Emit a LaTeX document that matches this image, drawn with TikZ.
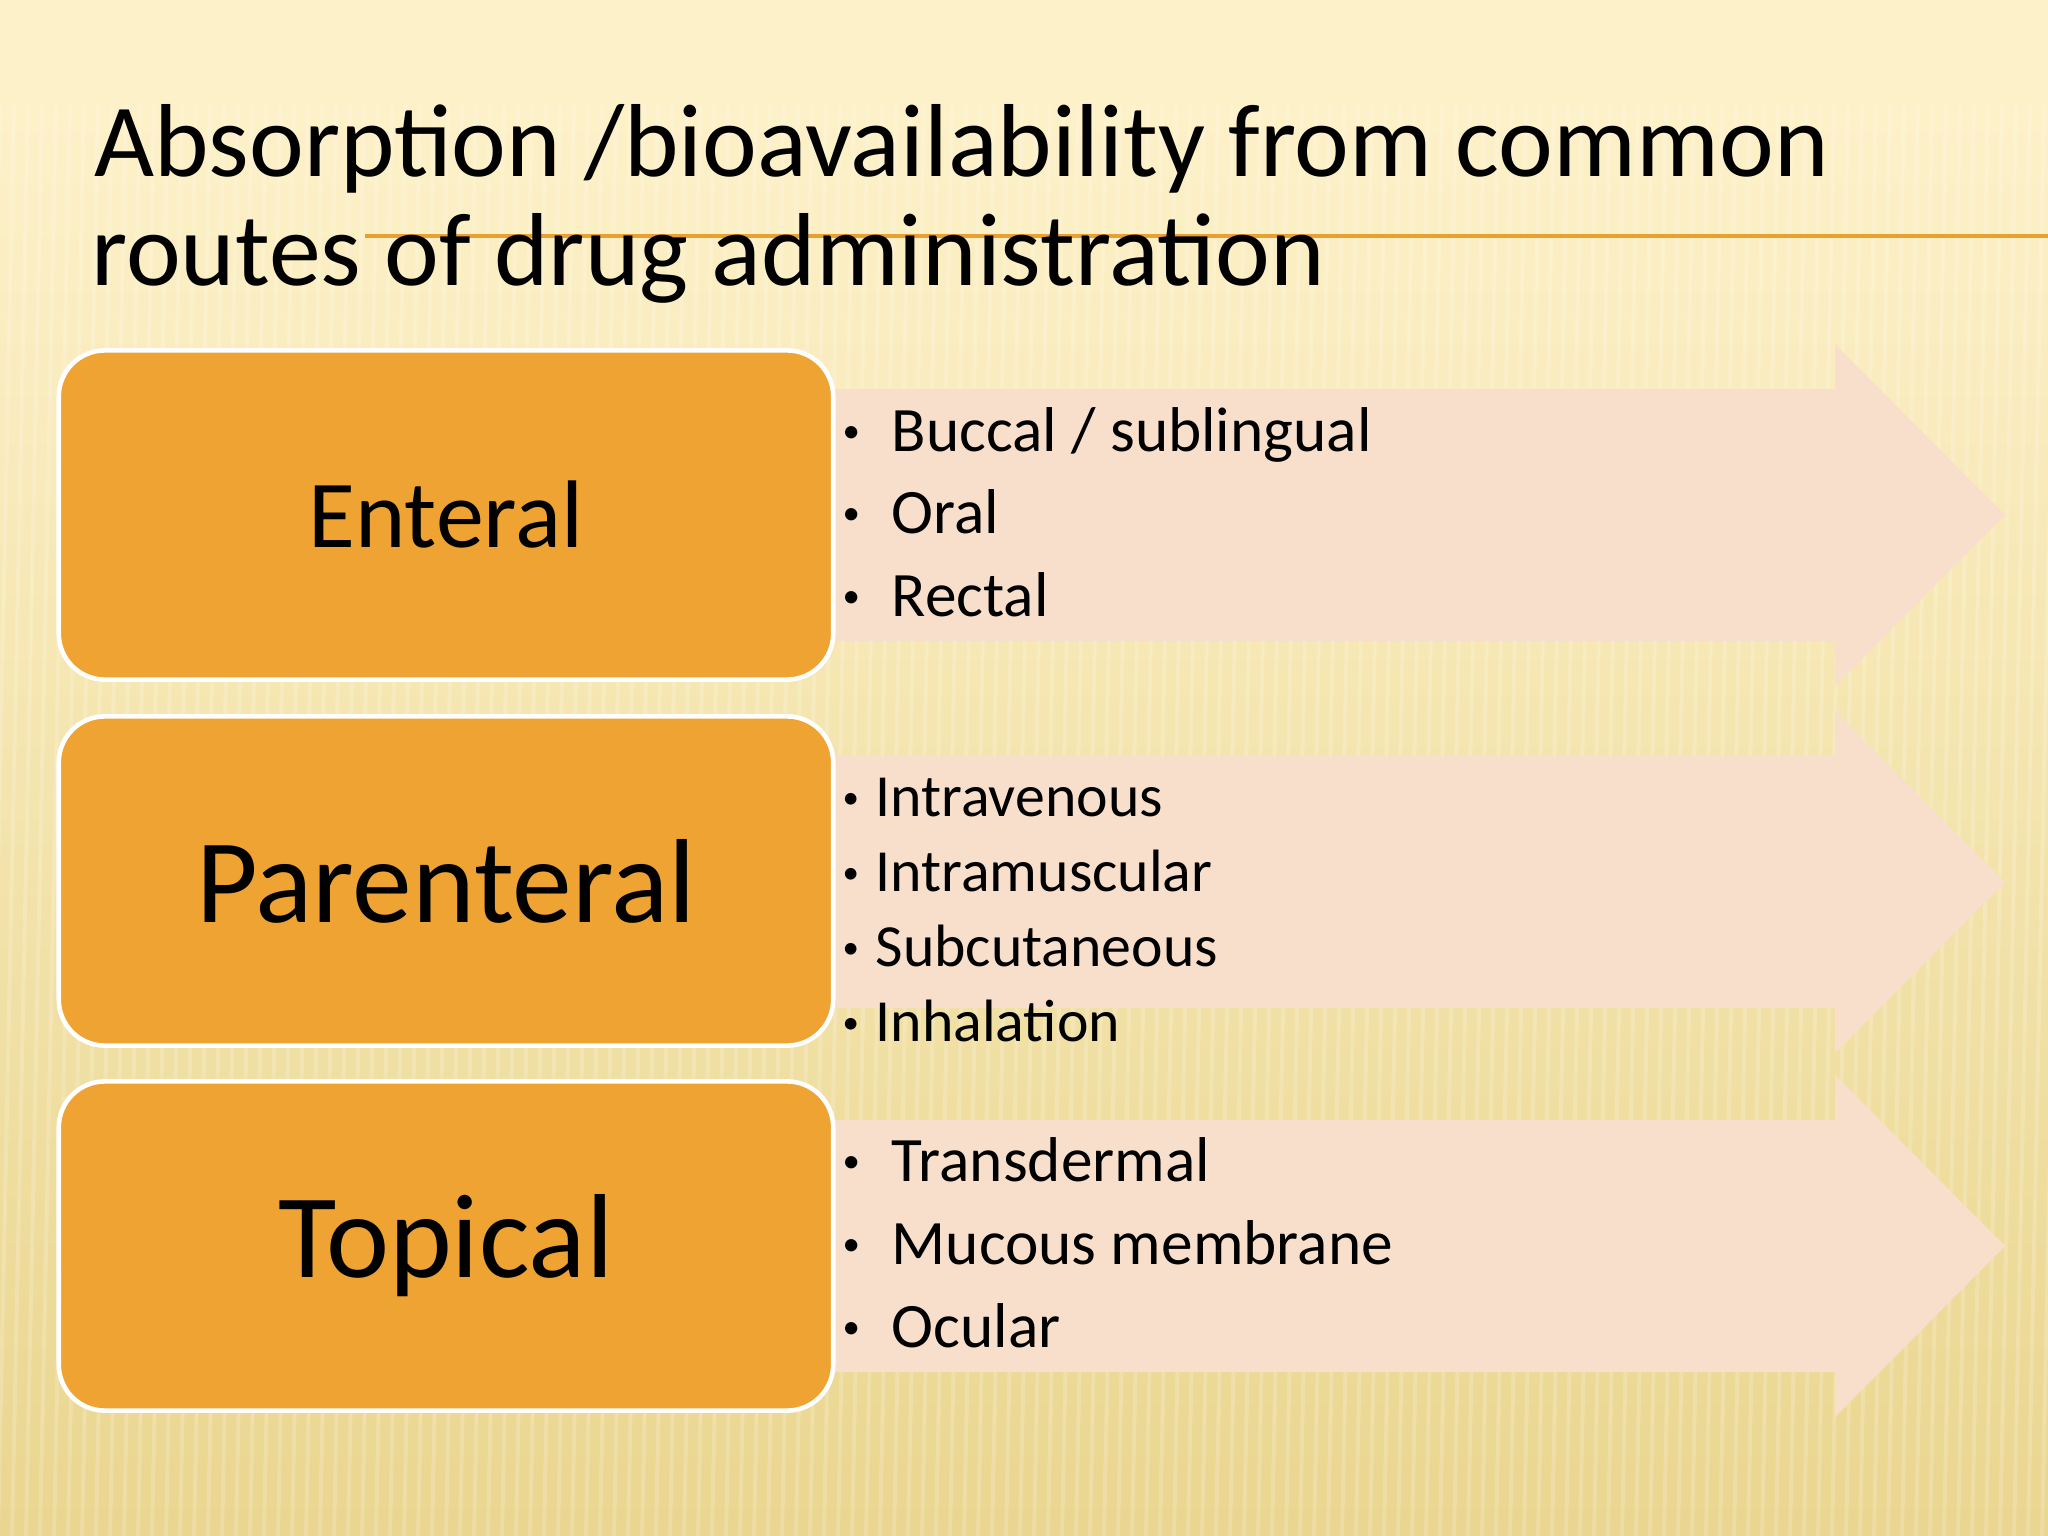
\documentclass[tikz,border=0pt]{standalone}
\usepackage{fontspec}
\setmainfont{Carlito}
\usepackage{xcolor}
\usepackage{graphicx}
\usepackage{tikz}

\definecolor{slidetop}{HTML}{FDF1C9}
\definecolor{slidebottom}{HTML}{EAD690}
\definecolor{routeorange}{HTML}{EEA332}
\definecolor{routepink}{HTML}{F8DFCB}
\definecolor{ruleorange}{HTML}{E9A033}

\newcommand{\routedot}[1]{\makebox[#1][l]{\raisebox{0.13em}{\scalebox{0.55}{\textbullet}}}}

\begin{document}
\begin{tikzpicture}[x=0.01cm,y=-0.01cm]
	\tikzstyle{every node}+=[inner sep=0pt]
	\tikzstyle{routebox}=[draw=white, line width=1.3pt, fill=routeorange, rounded corners=0.46cm, minimum width=7.74cm, minimum height=3.29cm]
	\tikzstyle{titletext}=[anchor=base west, font=\fontsize{29.5}{35}\selectfont]
	\tikzstyle{item}=[anchor=base west, font=\fontsize{18}{21}\selectfont]
	\tikzstyle{smallitem}=[anchor=base west, font=\fontsize{17}{20}\selectfont]
	\useasboundingbox (0,0) rectangle (2048,1536);
	% slide background
	\fill [slidetop] (0,0) rectangle (2048,1536);
	\shade [top color=slidetop, bottom color=slidebottom] (0,105) rectangle (2048,1536);
	\foreach \x in {0,14,...,2100}
		\draw [white, opacity=0.18, line width=0.04cm] (\x,105) -- (\x-30,1536);
	\draw [ruleorange, line width=0.035cm] (365,236) -- (2048,236);
	% title
	\node (title1) [titletext] at (94,176) {Absorption /bioavailability from common};
	\node (title2) [titletext] at (91,285) {routes of drug administration};
	% arrows
	\foreach \c in {515,882,1246}
		\fill [routepink] (800,\c-126) -- (1835,\c-126) -- (1835,\c-171) -- (2005,\c) -- (1835,\c+171) -- (1835,\c+126) -- (800,\c+126) -- cycle;
	% boxes
	\node (enteral) [routebox, font=\fontsize{27.3}{32}\selectfont] at (446,515) {Enteral};
	\node (parenteral) [routebox, font=\fontsize{34}{40}\selectfont] at (446,881) {Parenteral};
	\node (topical) [routebox, font=\fontsize{34}{40}\selectfont] at (446,1246) {Topical};
	% routes
	\node (buccal) [item] at (842,451) {\routedot{0.49cm}Buccal / sublingual};
	\node (oral) [item] at (842,533) {\routedot{0.49cm}Oral};
	\node (rectal) [item] at (842,616) {\routedot{0.49cm}Rectal};
	\node (iv) [smallitem] at (842,816) {\routedot{0.33cm}Intravenous};
	\node (im) [smallitem] at (842,891) {\routedot{0.33cm}Intramuscular};
	\node (sc) [smallitem] at (842,966) {\routedot{0.33cm}Subcutaneous};
	\node (inh) [smallitem] at (842,1041) {\routedot{0.33cm}Inhalation};
	\node (transdermal) [item] at (842,1181) {\routedot{0.49cm}Transdermal};
	\node (mucous) [item] at (842,1264) {\routedot{0.49cm}Mucous membrane};
	\node (ocular) [item] at (842,1347) {\routedot{0.49cm}Ocular};
\end{tikzpicture}
\end{document}
